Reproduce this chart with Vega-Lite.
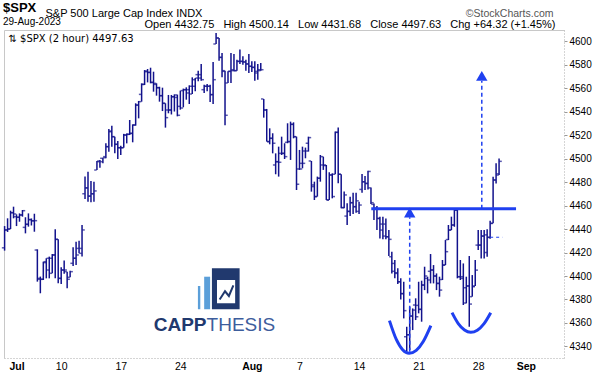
{
  "$schema": "https://vega.github.io/schema/vega-lite/v6.json",
  "width": 560,
  "height": 328,
  "autosize": {"type": "none"},
  "padding": {"left": 4, "top": 30, "right": 32, "bottom": 17},
  "background": "white",
  "config": {"view": {"stroke": null}, "font": "Liberation Sans"},
  "title": {
    "text": "$SPX",
    "subtitle": "29-Aug-2023",
    "anchor": "start",
    "frame": "group",
    "font": "Liberation Sans",
    "fontSize": 13,
    "fontWeight": "bold",
    "color": "#000000",
    "subtitleFont": "Liberation Sans",
    "subtitleFontSize": 10,
    "subtitleColor": "#000000",
    "subtitlePadding": 2,
    "offset": 3,
    "dx": -1,
    "dy": 23
  },
  "datasets": {
    "bars": [
      {"i":0,"o":4424,"h":4442.5,"l":4421.6,"c":4439.2},
      {"i":1,"o":4439.2,"h":4449.1,"l":4437.5,"c":4440},
      {"i":2,"o":4440,"h":4455.6,"l":4440,"c":4453.9},
      {"i":3,"o":4453.9,"h":4459,"l":4449.1,"c":4452.8},
      {"i":4,"o":4450.5,"h":4452.5,"l":4442.5,"c":4450},
      {"i":5,"o":4450,"h":4453.3,"l":4446.2,"c":4451.9},
      {"i":6,"o":4452,"h":4456.2,"l":4450.5,"c":4455.6},
      {"i":7,"o":4441.4,"h":4450,"l":4436.3,"c":4444},
      {"i":8,"o":4444,"h":4453.3,"l":4442,"c":4448},
      {"i":9,"o":4448,"h":4449,"l":4443,"c":4447},
      {"i":10,"o":4447,"h":4453,"l":4437.7,"c":4447.1},
      {"i":11,"o":4422.1,"h":4422.7,"l":4395.2,"c":4397.2},
      {"i":12,"o":4398,"h":4399.5,"l":4385.3,"c":4397.2},
      {"i":13,"o":4397.2,"h":4412.2,"l":4396.6,"c":4412.2},
      {"i":14,"o":4411.4,"h":4415.1,"l":4398,"c":4405.1},
      {"i":15,"o":4415.1,"h":4416.5,"l":4398,"c":4415.1},
      {"i":16,"o":4402.3,"h":4418.7,"l":4402.3,"c":4417.9},
      {"i":17,"o":4417.9,"h":4439.7,"l":4398,"c":4431.2},
      {"i":18,"o":4431.2,"h":4431.2,"l":4393.8,"c":4398},
      {"i":19,"o":4398,"h":4407.4,"l":4393.2,"c":4405.1},
      {"i":20,"o":4405.1,"h":4413.1,"l":4402,"c":4405.1},
      {"i":21,"o":4403.7,"h":4403.7,"l":4389.5,"c":4397.2},
      {"i":22,"o":4398.9,"h":4404.5,"l":4398.9,"c":4403.7},
      {"i":23,"o":4410.8,"h":4424.4,"l":4408.5,"c":4415.1},
      {"i":24,"o":4415.1,"h":4429.2,"l":4409.4,"c":4417.9},
      {"i":25,"o":4423.5,"h":4430.1,"l":4419.3,"c":4423.5},
      {"i":26,"o":4419.3,"h":4443.4,"l":4416.5,"c":4439.2},
      {"i":27,"o":4470,"h":4484.6,"l":4465.5,"c":4475},
      {"i":28,"o":4475,"h":4488.8,"l":4463.3,"c":4468},
      {"i":29,"o":4468,"h":4480.9,"l":4462.7,"c":4470},
      {"i":30,"o":4470,"h":4480.3,"l":4463.3,"c":4472.4},
      {"i":31,"o":4490.2,"h":4497.9,"l":4490.2,"c":4497.9},
      {"i":32,"o":4497.3,"h":4498.7,"l":4492.2,"c":4497.3},
      {"i":33,"o":4500.2,"h":4500.7,"l":4495.9,"c":4500.7},
      {"i":34,"o":4501.6,"h":4512.9,"l":4500.2,"c":4510.1},
      {"i":35,"o":4510.1,"h":4525.1,"l":4505.8,"c":4523.4},
      {"i":36,"o":4522.8,"h":4528,"l":4510.1,"c":4518.6},
      {"i":37,"o":4518.6,"h":4518.6,"l":4504.4,"c":4512.1},
      {"i":38,"o":4512.1,"h":4514.9,"l":4499.6,"c":4509.2},
      {"i":39,"o":4509.2,"h":4510.9,"l":4503,"c":4509.2},
      {"i":40,"o":4509.2,"h":4521,"l":4509.2,"c":4520},
      {"i":41,"o":4520,"h":4521.4,"l":4512.9,"c":4520.6},
      {"i":42,"o":4520.6,"h":4532.8,"l":4520,"c":4521.4},
      {"i":43,"o":4521.4,"h":4529.1,"l":4513.8,"c":4528.5},
      {"i":44,"o":4528.5,"h":4547,"l":4528,"c":4545.5},
      {"i":45,"o":4545.5,"h":4549,"l":4534.2,"c":4548.4},
      {"i":46,"o":4554.6,"h":4564,"l":4548.4,"c":4563.1},
      {"i":47,"o":4563.1,"h":4575.3,"l":4562.6,"c":4573.9},
      {"i":48,"o":4574.5,"h":4576.2,"l":4564.8,"c":4573.3},
      {"i":49,"o":4573.3,"h":4577.3,"l":4564,"c":4564.8},
      {"i":50,"o":4564.8,"h":4573.9,"l":4556.9,"c":4564},
      {"i":51,"o":4563.1,"h":4564,"l":4553.5,"c":4560.3},
      {"i":52,"o":4560.3,"h":4561.1,"l":4548.4,"c":4553.5},
      {"i":53,"o":4553.5,"h":4560.3,"l":4540.4,"c":4547},
      {"i":54,"o":4547,"h":4547,"l":4526.3,"c":4534.8},
      {"i":55,"o":4541.3,"h":4554.1,"l":4538.5,"c":4541.3},
      {"i":56,"o":4541.3,"h":4554.1,"l":4537.5,"c":4552.6},
      {"i":57,"o":4552.6,"h":4554.6,"l":4540,"c":4554.1},
      {"i":58,"o":4552,"h":4554.4,"l":4535.9,"c":4536.8},
      {"i":59,"o":4544.4,"h":4557.8,"l":4541.6,"c":4543},
      {"i":60,"o":4557.8,"h":4559.5,"l":4543.6,"c":4558.6},
      {"i":61,"o":4558.6,"h":4560.6,"l":4550.1,"c":4558.6},
      {"i":62,"o":4555.8,"h":4562.3,"l":4546.4,"c":4554.9},
      {"i":63,"o":4561.5,"h":4569.1,"l":4554.9,"c":4561.5},
      {"i":64,"o":4567.1,"h":4568.5,"l":4557.2,"c":4568.5},
      {"i":65,"o":4571.4,"h":4574.8,"l":4565.7,"c":4571.4},
      {"i":66,"o":4568.5,"h":4580.5,"l":4566.3,"c":4567.1},
      {"i":67,"o":4558.6,"h":4562.9,"l":4555.8,"c":4561.5},
      {"i":68,"o":4561.5,"h":4563.4,"l":4557.2,"c":4561.5},
      {"i":69,"o":4561.5,"h":4562.9,"l":4548.1,"c":4554.4},
      {"i":70,"o":4554.4,"h":4582.2,"l":4546.4,"c":4567.1},
      {"i":71,"o":4597.5,"h":4606.8,"l":4597.5,"c":4602.6},
      {"i":72,"o":4602.6,"h":4602.6,"l":4583.3,"c":4586.1},
      {"i":73,"o":4586.1,"h":4589.8,"l":4569.1,"c":4574.8},
      {"i":74,"o":4574.2,"h":4574.8,"l":4528.3,"c":4536.8},
      {"i":75,"o":4564.3,"h":4574.2,"l":4564.3,"c":4574.2},
      {"i":76,"o":4574.2,"h":4589.8,"l":4564.3,"c":4575.6},
      {"i":77,"o":4574.8,"h":4589,"l":4574.2,"c":4574.8},
      {"i":78,"o":4574.8,"h":4584.1,"l":4574.8,"c":4582.7},
      {"i":79,"o":4582.7,"h":4592.7,"l":4580.5,"c":4582.7},
      {"i":80,"o":4582.7,"h":4587,"l":4579.9,"c":4582.2},
      {"i":81,"o":4582.2,"h":4584.1,"l":4574.8,"c":4580.5},
      {"i":82,"o":4580.5,"h":4589,"l":4572.8,"c":4578.5},
      {"i":83,"o":4578.5,"h":4582.7,"l":4573.6,"c":4577.6},
      {"i":84,"o":4577.6,"h":4582.7,"l":4566.3,"c":4572.8},
      {"i":85,"o":4574.2,"h":4580.5,"l":4567.1,"c":4574.8},
      {"i":86,"o":4575.6,"h":4581.3,"l":4574.8,"c":4575.6},
      {"i":87,"o":4550.7,"h":4550.7,"l":4534.8,"c":4541.3},
      {"i":88,"o":4541.3,"h":4542.2,"l":4514.4,"c":4514.4},
      {"i":89,"o":4514.4,"h":4525.7,"l":4512.1,"c":4517.2},
      {"i":90,"o":4517.2,"h":4521.5,"l":4504.4,"c":4513},
      {"i":91,"o":4494.5,"h":4504.4,"l":4486.6,"c":4497.3},
      {"i":92,"o":4497.3,"h":4510.1,"l":4484.6,"c":4496.8},
      {"i":93,"o":4504.4,"h":4518.6,"l":4503,"c":4504.4},
      {"i":94,"o":4504.4,"h":4513,"l":4499.6,"c":4501.6},
      {"i":95,"o":4513.8,"h":4530,"l":4513,"c":4514.4},
      {"i":96,"o":4514.4,"h":4531.4,"l":4498.8,"c":4529.1},
      {"i":97,"o":4529.1,"h":4530.8,"l":4517.2,"c":4518.6},
      {"i":98,"o":4518.6,"h":4518.6,"l":4473.2,"c":4478.1},
      {"i":99,"o":4491.1,"h":4507.3,"l":4490.3,"c":4491.1},
      {"i":100,"o":4495.9,"h":4510.1,"l":4491.7,"c":4495.9},
      {"i":101,"o":4506.4,"h":4509.3,"l":4500.2,"c":4506.4},
      {"i":102,"o":4513,"h":4518.6,"l":4505.9,"c":4517.8},
      {"i":103,"o":4497.9,"h":4497.9,"l":4471.8,"c":4476.1},
      {"i":104,"o":4477.5,"h":4480.3,"l":4464.7,"c":4467.6},
      {"i":105,"o":4467.6,"h":4484.6,"l":4467.6,"c":4483.2},
      {"i":106,"o":4483.2,"h":4503,"l":4480.3,"c":4501.6},
      {"i":107,"o":4494.5,"h":4501.6,"l":4490.3,"c":4494.5},
      {"i":108,"o":4494,"h":4494.5,"l":4464.7,"c":4464.7},
      {"i":109,"o":4464.7,"h":4488.3,"l":4464.7,"c":4486},
      {"i":110,"o":4486,"h":4487.4,"l":4466.1,"c":4467.6},
      {"i":111,"o":4486.6,"h":4522.9,"l":4486.6,"c":4522.3},
      {"i":112,"o":4522.3,"h":4526.3,"l":4478.9,"c":4486.6},
      {"i":113,"o":4486.6,"h":4486.6,"l":4457.6,"c":4458.2},
      {"i":114,"o":4458.2,"h":4472,"l":4457.6,"c":4469},
      {"i":115,"o":4451,"h":4462,"l":4443.4,"c":4455},
      {"i":116,"o":4455,"h":4467.5,"l":4451,"c":4462.4},
      {"i":117,"o":4462.4,"h":4470.9,"l":4452.7,"c":4459},
      {"i":118,"o":4459,"h":4470.9,"l":4453.9,"c":4464},
      {"i":119,"o":4455,"h":4463.2,"l":4452.7,"c":4460.4},
      {"i":120,"o":4473.7,"h":4486.8,"l":4470.9,"c":4480.2},
      {"i":121,"o":4480.2,"h":4485.1,"l":4473.2,"c":4478.8},
      {"i":122,"o":4478.8,"h":4489.6,"l":4473.7,"c":4489},
      {"i":123,"o":4475,"h":4475.4,"l":4461.2,"c":4462.4},
      {"i":124,"o":4461,"h":4461.8,"l":4447.6,"c":4457.6},
      {"i":125,"o":4457.6,"h":4459.5,"l":4439.1,"c":4449},
      {"i":126,"o":4449,"h":4450.5,"l":4432,"c":4439.1},
      {"i":127,"o":4444.2,"h":4450.5,"l":4431.2,"c":4444.2},
      {"i":128,"o":4434,"h":4449,"l":4431.2,"c":4433.4},
      {"i":129,"o":4433.4,"h":4439.1,"l":4417,"c":4431.2},
      {"i":130,"o":4416.4,"h":4420.7,"l":4402.2,"c":4404},
      {"i":131,"o":4410.7,"h":4413.6,"l":4398,"c":4402.8},
      {"i":132,"o":4402.2,"h":4406.5,"l":4393.2,"c":4395.1},
      {"i":133,"o":4395.1,"h":4398,"l":4380,"c":4385},
      {"i":134,"o":4385,"h":4395.1,"l":4363.9,"c":4370.5},
      {"i":135,"o":4348.3,"h":4356.8,"l":4335.6,"c":4350},
      {"i":136,"o":4350,"h":4373.9,"l":4337,"c":4365.9},
      {"i":137,"o":4365.9,"h":4372.4,"l":4354,"c":4371},
      {"i":138,"o":4375.3,"h":4381,"l":4362.5,"c":4365.3},
      {"i":139,"o":4375,"h":4395.1,"l":4368.2,"c":4371.6},
      {"i":140,"o":4371.6,"h":4396,"l":4361.1,"c":4392.3},
      {"i":141,"o":4392.3,"h":4407.9,"l":4388,"c":4400},
      {"i":142,"o":4398,"h":4399.4,"l":4385.2,"c":4396.6},
      {"i":143,"o":4404,"h":4418.7,"l":4393.7,"c":4405.1},
      {"i":144,"o":4405.1,"h":4409.3,"l":4393.7,"c":4400},
      {"i":145,"o":4400,"h":4402.2,"l":4388,"c":4393.7},
      {"i":146,"o":4393.7,"h":4399.4,"l":4382.4,"c":4388},
      {"i":147,"o":4397,"h":4413.6,"l":4396.6,"c":4409.3},
      {"i":148,"o":4409.3,"h":4430.6,"l":4409.3,"c":4420.7},
      {"i":149,"o":4431,"h":4443.4,"l":4430.6,"c":4439.1},
      {"i":150,"o":4439.1,"h":4450.5,"l":4439.1,"c":4443.4},
      {"i":151,"o":4443.4,"h":4456.7,"l":4441.9,"c":4456},
      {"i":152,"o":4456,"h":4456.7,"l":4398,"c":4399.4},
      {"i":153,"o":4399.4,"h":4413.6,"l":4396.6,"c":4399.4},
      {"i":154,"o":4398,"h":4410.7,"l":4375.3,"c":4377},
      {"i":155,"o":4390,"h":4399.4,"l":4376.7,"c":4391.5},
      {"i":156,"o":4391.5,"h":4417,"l":4356.8,"c":4376.1},
      {"i":157,"o":4382.4,"h":4400.8,"l":4382.4,"c":4390.9},
      {"i":158,"o":4391.5,"h":4413.6,"l":4391.5,"c":4405},
      {"i":159,"o":4426.3,"h":4439.1,"l":4422.1,"c":4426.3},
      {"i":160,"o":4426.3,"h":4439.1,"l":4415,"c":4434},
      {"i":161,"o":4434,"h":4439.1,"l":4415,"c":4435},
      {"i":162,"o":4420,"h":4439.9,"l":4416.4,"c":4433},
      {"i":163,"o":4432.8,"h":4447.1,"l":4431.7,"c":4444.8},
      {"i":164,"o":4444.8,"h":4484.5,"l":4444.8,"c":4481.7},
      {"i":165,"o":4481.7,"h":4495.9,"l":4478.8,"c":4485.9},
      {"i":166,"o":4487,"h":4500.1,"l":4485.9,"c":4497.6}
    ],
    "level": [{"i": 123.1, "p": 4457.2}, {"i": 171.7, "p": 4457.2}],
    "arrows": [{"i": 136.0, "p": 4335.6, "p2": 4450}, {"i": 160.2, "p": 4457.2, "p2": 4566}],
    "heads": [{"i": 136.0, "p": 4454.0}, {"i": 160.2, "p": 4570.4}],
    "openline": [{"i": 163.0, "i2": 167.1, "p": 4433.0}],
    "arcs": [
      {"arc": "a", "i": 129.2, "p": 4362.0},
      {"arc": "a", "i": 131.5, "p": 4346.0},
      {"arc": "a", "i": 133.7, "p": 4337.0},
      {"arc": "a", "i": 135.8, "p": 4334.2},
      {"arc": "a", "i": 138.2, "p": 4336.7},
      {"arc": "a", "i": 140.6, "p": 4344.4},
      {"arc": "a", "i": 143.1, "p": 4357.7},
      {"arc": "b", "i": 150.2, "p": 4368.8},
      {"arc": "b", "i": 152.3, "p": 4359.5},
      {"arc": "b", "i": 154.4, "p": 4354.0},
      {"arc": "b", "i": 156.5, "p": 4352.1},
      {"arc": "b", "i": 158.7, "p": 4353.9},
      {"arc": "b", "i": 160.9, "p": 4359.3},
      {"arc": "b", "i": 163.2, "p": 4368.8}
    ],
    "logoBars": [
      {"i": 64.9, "i2": 65.7, "p": 4371.7, "p2": 4391.5},
      {"i": 67.0, "i2": 69.0, "p": 4371.7, "p2": 4399.4}
    ],
    "logoFrame": [{"i": 69.6, "i2": 78.9, "p": 4371.7, "p2": 4406.6}],
    "logoInner": [{"i": 71.3, "i2": 77.4, "p": 4376.8, "p2": 4396.6}],
    "logoZig": [
      {"i": 72.2, "p": 4380.0},
      {"i": 74.0, "p": 4387.0},
      {"i": 75.3, "p": 4383.0},
      {"i": 76.8, "p": 4392.0}
    ],
    "logoCapp": [{"i": 67.8, "p": 4353.2, "t": "CAPP"}],
    "logoThesis": [{"i": 67.8, "p": 4353.2, "t": "THESIS"}]
  },
  "encoding": {
    "x": {"field": "i", "type": "quantitative", "scale": {"domain": [-0.2, 187.8], "nice": false, "zero": false}, "axis": null},
    "y": {"field": "p", "type": "quantitative", "scale": {"domain": [4330.2, 4609.4], "nice": false, "zero": false}, "axis": null}
  },
  "layer": [
    {
      "data": {"name": "bars"},
      "mark": {"type": "rule", "color": "#12128c", "strokeWidth": 1.5},
      "encoding": {
        "x": {
          "field": "i", "type": "quantitative",
          "scale": {"domain": [-0.2, 187.8], "nice": false, "zero": false},
          "axis": {
            "orient": "bottom",
            "values": [4, 19, 39, 59, 83, 99, 119, 139, 159, 175],
            "labelExpr": "datum.value==4?'Jul':datum.value==19?'10':datum.value==39?'17':datum.value==59?'24':datum.value==83?'Aug':datum.value==99?'7':datum.value==119?'14':datum.value==139?'21':datum.value==159?'28':'Sep'",
            "labelFontWeight": {"condition": {"test": "datum.value==4||datum.value==83||datum.value==175", "value": "bold"}, "value": "normal"},
            "labelFont": "Liberation Sans",
            "labelFontSize": 10.5,
            "labelColor": "#000000",
            "labelPadding": 3,
            "labelFlush": false,
            "labelOverlap": false,
            "ticks": false,
            "grid": false,
            "domainColor": "#aaaaaa",
            "domainDash": [1, 2],
            "title": "⇅ $SPX (2 hour) 4497.63",
            "titleX": 4,
            "titleY": -317,
            "titleAlign": "left",
            "titleBaseline": "alphabetic",
            "titleFont": "DejaVu Sans",
            "titleFontSize": 10,
            "titleFontWeight": "normal",
            "titleColor": "#000000"
          }
        },
        "y": {
          "field": "l", "type": "quantitative",
          "scale": {"domain": [4330.2, 4609.4], "nice": false, "zero": false},
          "axis": {
            "orient": "right",
            "values": [4340, 4360, 4380, 4400, 4420, 4440, 4460, 4480, 4500, 4520, 4540, 4560, 4580, 4600],
            "format": "d",
            "labelFont": "Liberation Sans",
            "labelFontSize": 10,
            "labelColor": "#000000",
            "labelPadding": 2,
            "tickSize": 3,
            "tickColor": "#999999",
            "grid": false,
            "domainColor": "#aaaaaa",
            "domainDash": [1, 2],
            "title": "©StockCharts.com",
            "titleAngle": 0,
            "titleAlign": "right",
            "titleBaseline": "alphabetic",
            "titleX": -11,
            "titleY": -14,
            "titleFont": "Liberation Sans",
            "titleFontSize": 10.5,
            "titleFontWeight": "normal",
            "titleColor": "#555555"
          }
        },
        "y2": {"field": "h"}
      }
    },
    {
      "data": {"name": "bars"},
      "mark": {"type": "tick", "orient": "horizontal", "color": "#12128c", "size": 2.5, "thickness": 1.5, "xOffset": -1.5},
      "encoding": {
        "x": {
          "field": "i", "type": "quantitative",
          "scale": {"domain": [-0.2, 187.8], "nice": false, "zero": false},
          "axis": {
            "orient": "top",
            "labels": false,
            "ticks": false,
            "grid": false,
            "domainColor": "#c8c8c8",
            "title": "S&P 500 Large Cap Index  INDX",
            "titleX": 41,
            "titleY": -14,
            "titleAlign": "left",
            "titleBaseline": "alphabetic",
            "titleFont": "Liberation Sans",
            "titleFontSize": 11,
            "titleFontWeight": "normal",
            "titleColor": "#000000"
          }
        },
        "y": {
          "field": "o", "type": "quantitative",
          "scale": {"domain": [4330.2, 4609.4], "nice": false, "zero": false},
          "axis": {
            "orient": "left",
            "labels": false,
            "ticks": false,
            "grid": false,
            "domainColor": "#c8c8c8",
            "title": "Open 4432.75\u00a0\u00a0 High 4500.14\u00a0\u00a0 Low 4431.68\u00a0\u00a0 Close 4497.63\u00a0\u00a0 Chg +64.32 (+1.45%)",
            "titleAngle": 0,
            "titleAlign": "right",
            "titleBaseline": "alphabetic",
            "titleX": 551,
            "titleY": -3,
            "titleFont": "Liberation Sans",
            "titleFontSize": 11,
            "titleFontWeight": "normal",
            "titleColor": "#000000"
          }
        }
      }
    },
    {
      "data": {"name": "bars"},
      "mark": {"type": "tick", "orient": "horizontal", "color": "#12128c", "size": 2.5, "thickness": 1.5, "xOffset": 1.5},
      "encoding": {
        "y": {"field": "c", "type": "quantitative", "scale": {"domain": [4330.2, 4609.4], "nice": false, "zero": false}, "axis": null}
      }
    },
    {
      "data": {"name": "level"},
      "mark": {"type": "line", "color": "#1f40f0", "strokeWidth": 3},
      "encoding": {}
    },
    {
      "data": {"name": "arrows"},
      "mark": {"type": "rule", "color": "#1f40f0", "strokeWidth": 1.5, "strokeDash": [4, 3]},
      "encoding": {"y2": {"field": "p2"}}
    },
    {
      "data": {"name": "heads"},
      "mark": {"type": "point", "shape": "triangle-up", "filled": true, "opacity": 1, "color": "#1f40f0", "size": 130}
    },
    {
      "data": {"name": "openline"},
      "mark": {"type": "rule", "color": "#1f40f0", "strokeWidth": 1.2, "strokeDash": [3, 3]},
      "encoding": {"x2": {"field": "i2"}}
    },
    {
      "data": {"name": "arcs"},
      "mark": {"type": "line", "color": "#1f40f0", "strokeWidth": 3, "interpolate": "monotone"},
      "encoding": {"detail": {"field": "arc", "type": "nominal"}}
    },
    {
      "data": {"name": "logoBars"},
      "mark": {"type": "rect", "color": "#5b9fd9"},
      "encoding": {"x2": {"field": "i2"}, "y2": {"field": "p2"}}
    },
    {
      "data": {"name": "logoFrame"},
      "mark": {"type": "rect", "color": "#21396e"},
      "encoding": {"x2": {"field": "i2"}, "y2": {"field": "p2"}}
    },
    {
      "data": {"name": "logoInner"},
      "mark": {"type": "rect", "color": "#ffffff"},
      "encoding": {"x2": {"field": "i2"}, "y2": {"field": "p2"}}
    },
    {
      "data": {"name": "logoZig"},
      "mark": {"type": "line", "color": "#21396e", "strokeWidth": 2},
      "encoding": {}
    },
    {
      "data": {"name": "logoCapp"},
      "mark": {"type": "text", "align": "right", "baseline": "alphabetic", "font": "Liberation Sans", "fontSize": 19, "fontWeight": "bold", "color": "#21396e"},
      "encoding": {"text": {"field": "t"}}
    },
    {
      "data": {"name": "logoThesis"},
      "mark": {"type": "text", "align": "left", "baseline": "alphabetic", "font": "Liberation Sans", "fontSize": 19, "fontWeight": "normal", "color": "#3d5d9c"},
      "encoding": {"text": {"field": "t"}}
    }
  ],
  "resolve": {"axis": {"x": "independent", "y": "independent"}}
}
